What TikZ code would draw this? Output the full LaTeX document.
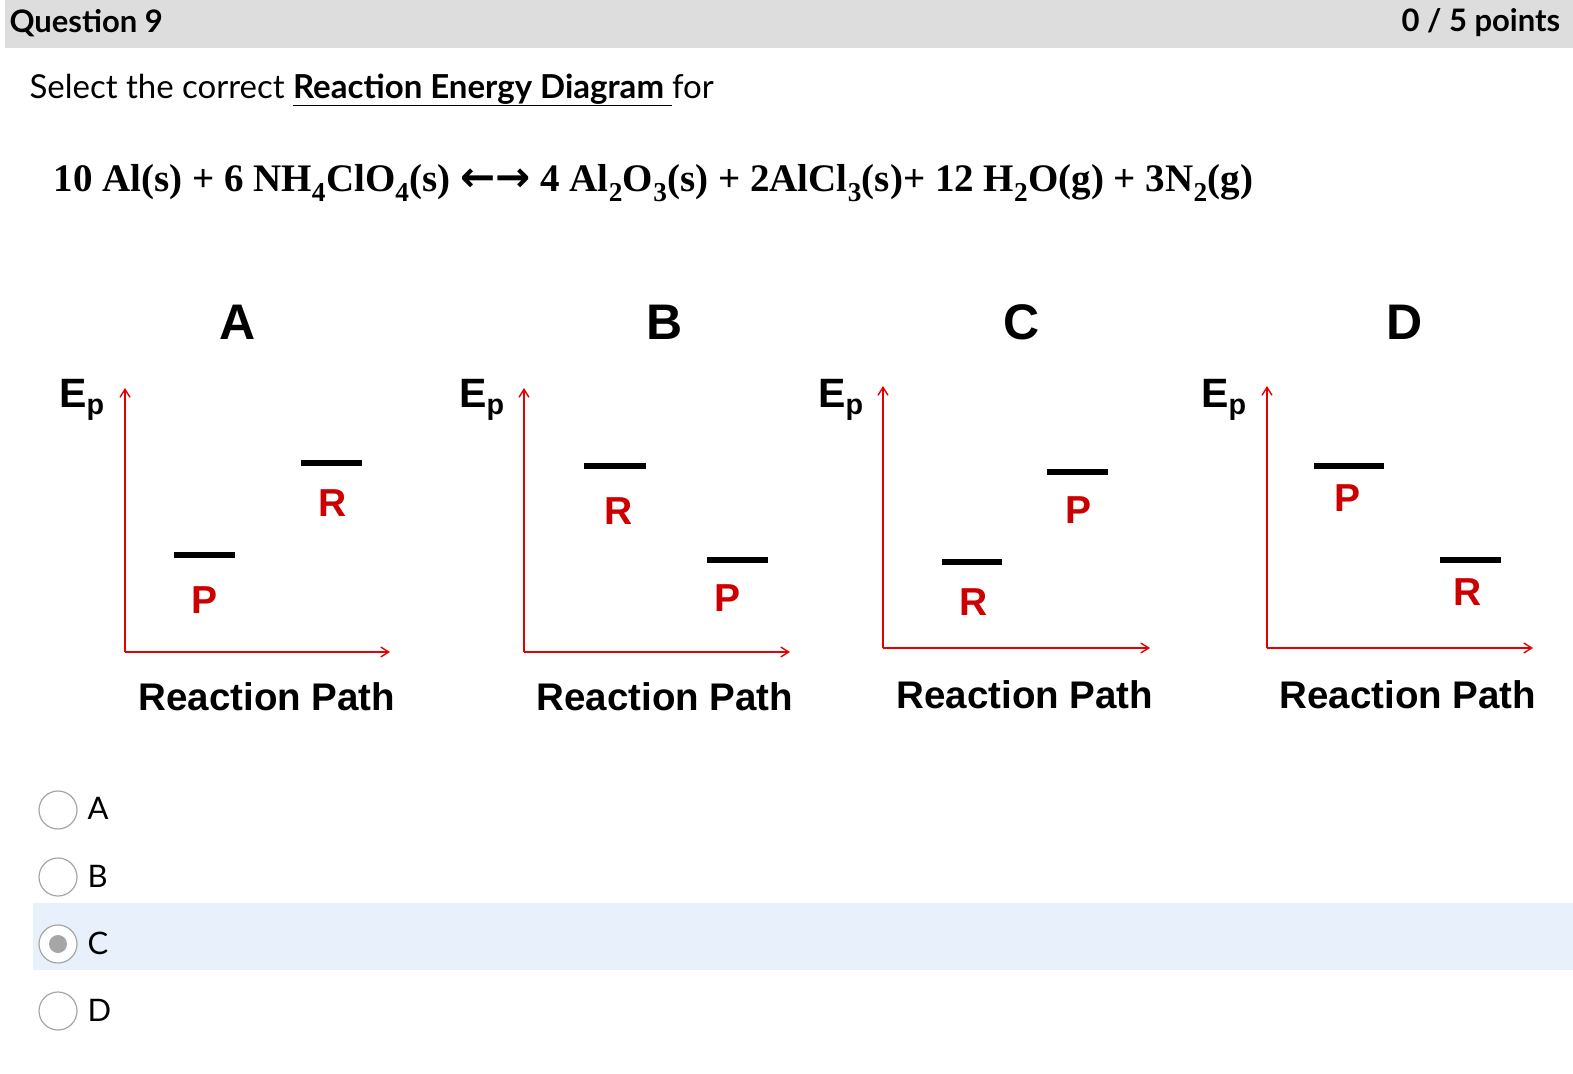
\documentclass[tikz,border=0pt]{standalone}
\usepackage{fontspec}
\usetikzlibrary{arrows.meta}
\setmainfont{Lato}
\newfontfamily\eqf{Liberation Serif}
\newfontfamily\arf{Liberation Sans}
\newfontfamily\dvf{DejaVu Sans}
\definecolor{hl}{HTML}{E8F1FB}
\begin{document}
\begin{tikzpicture}[x=1pt,y=-1pt,
  ax/.style={red!90!black,line width=1.4pt,-{Straight Barb[length=8pt,width=10pt]}},
  lvl/.style={line width=6pt},
  lab/.style={text=red!80!black,font=\arf\bfseries\fontsize{39}{40}\selectfont},
  ttl/.style={font=\arf\bfseries\fontsize{50}{52}\selectfont},
  rp/.style={font=\arf\bfseries\fontsize{38.5}{40}\selectfont},
  ep/.style={font=\arf\bfseries\fontsize{41}{42}\selectfont},
  radio/.style={circle,draw=gray!70,line width=1.2pt,minimum size=38pt,inner sep=0pt},
  opt/.style={anchor=west,font=\fontsize{31}{32}\selectfont}]
\useasboundingbox (0,0) rectangle (1573,1073);
\fill[gray!27] (5,0) rectangle (1573,48);
\node[anchor=west,font=\bfseries\fontsize{31}{32}\selectfont] (q) at (6,23) {Question 9};
\node[anchor=west,font=\bfseries\fontsize{31}{32}\selectfont] (pts) at (1398,23) {0 / 5 points};
\node[anchor=west,font=\fontsize{33}{35}\selectfont] (sel) at (26,90) {Select the correct \textbf{\underline{Reaction Energy Diagram }}for};
\node[anchor=west,font=\eqf\bfseries\fontsize{39}{41}\selectfont] (eq) at (50,183)
 {10 Al(s) + 6 NH\textsubscript{4}ClO\textsubscript{4}(s) {\dvf\bfseries\fontsize{42}{42}\selectfont ←→} 4 Al\textsubscript{2}O\textsubscript{3}(s) + 2AlCl\textsubscript{3}(s)+ 12 H\textsubscript{2}O(g) + 3N\textsubscript{2}(g)};
% A
\node[ttl] (tA) at (238,322) {A};
\node[ep] (eA) at (82,400) {E\textsubscript{p}};
\coordinate (oA) at (125,652);
\draw[ax] (oA) -- (125,388); \draw[ax] (oA) -- (390,652);
\draw[lvl] (301,463) -- (362,463); \node[lab] (rA) at (333,503) {R};
\draw[lvl] (174,555) -- (235,555); \node[lab] (pA) at (205,600) {P};
\node[rp] (rpA) at (267,697) {Reaction Path};
% B
\node[ttl] (tB) at (665,322) {B};
\node[ep] (eB) at (482,400) {E\textsubscript{p}};
\coordinate (oB) at (524,652);
\draw[ax] (oB) -- (524,388); \draw[ax] (oB) -- (790,652);
\draw[lvl] (584,466) -- (646,466); \node[lab] (rB) at (619,511) {R};
\draw[lvl] (707,560) -- (768,560); \node[lab] (pB) at (727,598) {P};
\node[rp] (rpB) at (665,697) {Reaction Path};
% C
\node[ttl] (tC) at (1022,322) {C};
\node[ep] (eC) at (841,400) {E\textsubscript{p}};
\coordinate (oC) at (883,648);
\draw[ax] (oC) -- (883,386); \draw[ax] (oC) -- (1150,648);
\draw[lvl] (942,562) -- (1002,562); \node[lab] (rC) at (974,602) {R};
\draw[lvl] (1047,472) -- (1108,472); \node[lab] (pC) at (1078,510) {P};
\node[rp] (rpC) at (1025,695) {Reaction Path};
% D
\node[ttl] (tD) at (1405,322) {D};
\node[ep] (eD) at (1224,400) {E\textsubscript{p}};
\coordinate (oD) at (1267,648);
\draw[ax] (oD) -- (1267,386); \draw[ax] (oD) -- (1533,648);
\draw[lvl] (1314,466) -- (1384,466); \node[lab] (pD) at (1347,498) {P};
\draw[lvl] (1440,560) -- (1501,560); \node[lab] (rD) at (1468,592) {R};
\node[rp] (rpD) at (1408,695) {Reaction Path};
% options
\fill[hl] (33,903) rectangle (1573,970);
\node[radio,fill=white] (c1) at (58,810) {}; \node[opt] (o1) at (84,808) {A};
\node[radio,fill=white] (c2) at (58,877) {}; \node[opt] (o2) at (84,876) {B};
\node[radio,fill=white] (c3) at (58,944) {}; \node[opt] (o3) at (84,943) {C};
\fill[gray!70] (c3) circle (9pt);
\node[radio,fill=white] (c4) at (58,1011) {}; \node[opt] (o4) at (84,1010) {D};
\end{tikzpicture}
\end{document}
